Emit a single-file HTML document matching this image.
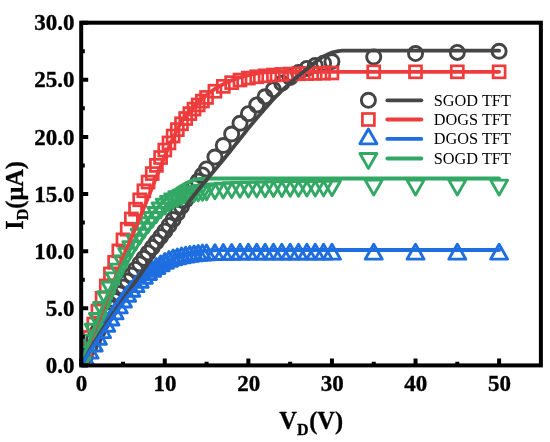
<!DOCTYPE html>
<html><head><meta charset="utf-8"><title>ID-VD</title>
<style>html,body{margin:0;padding:0;background:#fff;}body{width:550px;height:442px;overflow:hidden;font-family:"Liberation Serif",serif;}</style>
</head><body>
<svg width="550" height="442" viewBox="0 0 550 442" style="display:block">
<rect width="550" height="442" fill="#fff"/>
<defs><clipPath id="pc"><rect x="81.2" y="22.7" width="459.69" height="344.2"/></clipPath></defs>
<g clip-path="url(#pc)">
<g fill="none" stroke="#454545" stroke-width="2.9" stroke-linejoin="round">
<circle cx="81.2" cy="365.4" r="7.05"/>
<circle cx="85.38" cy="356.51" r="7.05"/>
<circle cx="89.56" cy="347.83" r="7.05"/>
<circle cx="93.74" cy="339.36" r="7.05"/>
<circle cx="97.92" cy="331.13" r="7.05"/>
<circle cx="102.09" cy="323.04" r="7.05"/>
<circle cx="106.27" cy="315.11" r="7.05"/>
<circle cx="110.45" cy="307.48" r="7.05"/>
<circle cx="114.63" cy="300.29" r="7.05"/>
<circle cx="118.81" cy="293.57" r="7.05"/>
<circle cx="122.99" cy="287.21" r="7.05"/>
<circle cx="127.17" cy="281.11" r="7.05"/>
<circle cx="131.35" cy="275.16" r="7.05"/>
<circle cx="135.53" cy="269.39" r="7.05"/>
<circle cx="139.71" cy="263.83" r="7.05"/>
<circle cx="143.88" cy="258.37" r="7.05"/>
<circle cx="148.06" cy="252.88" r="7.05"/>
<circle cx="152.24" cy="247.42" r="7.05"/>
<circle cx="156.42" cy="242.06" r="7.05"/>
<circle cx="160.6" cy="236.69" r="7.05"/>
<circle cx="164.78" cy="231.22" r="7.05"/>
<circle cx="168.96" cy="225.53" r="7.05"/>
<circle cx="173.14" cy="219.52" r="7.05"/>
<circle cx="177.32" cy="213.13" r="7.05"/>
<circle cx="181.5" cy="206.53" r="7.05"/>
<circle cx="185.68" cy="199.92" r="7.05"/>
<circle cx="189.85" cy="193.48" r="7.05"/>
<circle cx="194.03" cy="187.23" r="7.05"/>
<circle cx="198.21" cy="181.05" r="7.05"/>
<circle cx="202.39" cy="174.95" r="7.05"/>
<circle cx="206.57" cy="168.92" r="7.05"/>
<circle cx="214.93" cy="157.07" r="7.05"/>
<circle cx="223.29" cy="145.5" r="7.05"/>
<circle cx="231.64" cy="134.02" r="7.05"/>
<circle cx="240" cy="123.23" r="7.05"/>
<circle cx="248.36" cy="113.67" r="7.05"/>
<circle cx="256.72" cy="104.95" r="7.05"/>
<circle cx="265.08" cy="96.83" r="7.05"/>
<circle cx="273.43" cy="89.53" r="7.05"/>
<circle cx="281.79" cy="83.14" r="7.05"/>
<circle cx="290.15" cy="77.53" r="7.05"/>
<circle cx="298.51" cy="72.44" r="7.05"/>
<circle cx="306.87" cy="68.39" r="7.05"/>
<circle cx="315.22" cy="65.53" r="7.05"/>
<circle cx="323.58" cy="63.23" r="7.05"/>
<circle cx="331.94" cy="61.54" r="7.05"/>
<circle cx="373.73" cy="56.97" r="7.05"/>
<circle cx="415.52" cy="53.54" r="7.05"/>
<circle cx="457.31" cy="52.4" r="7.05"/>
<circle cx="499.1" cy="51.26" r="7.05"/>
</g>
<g fill="none" stroke="#ee3b3b" stroke-width="2.7" stroke-linejoin="miter">
<rect x="75.2" y="359.4" width="12.0" height="12.0"/>
<rect x="79.38" y="345.27" width="12.0" height="12.0"/>
<rect x="83.56" y="331.49" width="12.0" height="12.0"/>
<rect x="87.74" y="318.07" width="12.0" height="12.0"/>
<rect x="91.92" y="305.02" width="12.0" height="12.0"/>
<rect x="96.09" y="292.32" width="12.0" height="12.0"/>
<rect x="100.27" y="279.94" width="12.0" height="12.0"/>
<rect x="104.45" y="267.91" width="12.0" height="12.0"/>
<rect x="108.63" y="256.25" width="12.0" height="12.0"/>
<rect x="112.81" y="244.9" width="12.0" height="12.0"/>
<rect x="116.99" y="233.85" width="12.0" height="12.0"/>
<rect x="121.17" y="223.17" width="12.0" height="12.0"/>
<rect x="125.35" y="212.95" width="12.0" height="12.0"/>
<rect x="129.53" y="203.19" width="12.0" height="12.0"/>
<rect x="133.71" y="193.81" width="12.0" height="12.0"/>
<rect x="137.88" y="184.77" width="12.0" height="12.0"/>
<rect x="142.06" y="176.06" width="12.0" height="12.0"/>
<rect x="146.24" y="167.59" width="12.0" height="12.0"/>
<rect x="150.42" y="159.39" width="12.0" height="12.0"/>
<rect x="154.6" y="151.52" width="12.0" height="12.0"/>
<rect x="158.78" y="144.07" width="12.0" height="12.0"/>
<rect x="162.96" y="136.94" width="12.0" height="12.0"/>
<rect x="167.14" y="130.07" width="12.0" height="12.0"/>
<rect x="171.32" y="123.64" width="12.0" height="12.0"/>
<rect x="175.5" y="117.8" width="12.0" height="12.0"/>
<rect x="179.68" y="112.51" width="12.0" height="12.0"/>
<rect x="183.85" y="107.61" width="12.0" height="12.0"/>
<rect x="188.03" y="103.1" width="12.0" height="12.0"/>
<rect x="192.21" y="98.95" width="12.0" height="12.0"/>
<rect x="196.39" y="95.07" width="12.0" height="12.0"/>
<rect x="200.57" y="91.43" width="12.0" height="12.0"/>
<rect x="208.93" y="85.24" width="12.0" height="12.0"/>
<rect x="217.29" y="80.38" width="12.0" height="12.0"/>
<rect x="225.64" y="76.67" width="12.0" height="12.0"/>
<rect x="234" y="74.02" width="12.0" height="12.0"/>
<rect x="242.36" y="72.1" width="12.0" height="12.0"/>
<rect x="250.72" y="70.79" width="12.0" height="12.0"/>
<rect x="259.08" y="69.82" width="12.0" height="12.0"/>
<rect x="267.43" y="69.03" width="12.0" height="12.0"/>
<rect x="275.79" y="68.45" width="12.0" height="12.0"/>
<rect x="284.15" y="68.07" width="12.0" height="12.0"/>
<rect x="292.51" y="67.78" width="12.0" height="12.0"/>
<rect x="300.87" y="67.53" width="12.0" height="12.0"/>
<rect x="309.22" y="67.33" width="12.0" height="12.0"/>
<rect x="317.58" y="67.15" width="12.0" height="12.0"/>
<rect x="325.94" y="66.96" width="12.0" height="12.0"/>
<rect x="367.73" y="65.82" width="12.0" height="12.0"/>
<rect x="409.52" y="65.82" width="12.0" height="12.0"/>
<rect x="451.31" y="65.82" width="12.0" height="12.0"/>
<rect x="493.1" y="65.82" width="12.0" height="12.0"/>
</g>
<g fill="none" stroke="#1e6ee0" stroke-width="2.9" stroke-linejoin="round">
<path d="M81.2 358L89.7 372.8L72.7 372.8Z"/>
<path d="M85.38 350.56L93.88 365.36L76.88 365.36Z"/>
<path d="M89.56 343.31L98.06 358.11L81.06 358.11Z"/>
<path d="M93.74 336.27L102.24 351.07L85.24 351.07Z"/>
<path d="M97.92 329.44L106.42 344.24L89.42 344.24Z"/>
<path d="M102.09 322.82L110.59 337.62L93.59 337.62Z"/>
<path d="M106.27 316.39L114.77 331.19L97.77 331.19Z"/>
<path d="M110.45 310.15L118.95 324.95L101.95 324.95Z"/>
<path d="M114.63 304.08L123.13 318.88L106.13 318.88Z"/>
<path d="M118.81 298.06L127.31 312.86L110.31 312.86Z"/>
<path d="M122.99 292.13L131.49 306.93L114.49 306.93Z"/>
<path d="M127.17 286.52L135.67 301.32L118.67 301.32Z"/>
<path d="M131.35 281.46L139.85 296.26L122.85 296.26Z"/>
<path d="M135.53 276.86L144.03 291.66L127.03 291.66Z"/>
<path d="M139.71 272.48L148.21 287.28L131.21 287.28Z"/>
<path d="M143.88 268.41L152.38 283.21L135.38 283.21Z"/>
<path d="M148.06 264.72L156.56 279.52L139.56 279.52Z"/>
<path d="M152.24 261.49L160.74 276.29L143.74 276.29Z"/>
<path d="M156.42 258.64L164.92 273.44L147.92 273.44Z"/>
<path d="M160.6 255.96L169.1 270.76L152.1 270.76Z"/>
<path d="M164.78 253.56L173.28 268.36L156.28 268.36Z"/>
<path d="M168.96 251.55L177.46 266.35L160.46 266.35Z"/>
<path d="M173.14 250.05L181.64 264.85L164.64 264.85Z"/>
<path d="M177.32 248.94L185.82 263.74L168.82 263.74Z"/>
<path d="M181.5 247.99L190 262.79L173 262.79Z"/>
<path d="M185.68 247.2L194.18 262L177.18 262Z"/>
<path d="M189.85 246.54L198.35 261.34L181.35 261.34Z"/>
<path d="M194.03 246L202.53 260.8L185.53 260.8Z"/>
<path d="M198.21 245.52L206.71 260.32L189.71 260.32Z"/>
<path d="M202.39 245.13L210.89 259.93L193.89 259.93Z"/>
<path d="M206.57 244.91L215.07 259.71L198.07 259.71Z"/>
<path d="M214.93 244.7L223.43 259.5L206.43 259.5Z"/>
<path d="M223.29 244.54L231.79 259.34L214.79 259.34Z"/>
<path d="M231.64 244.43L240.14 259.23L223.14 259.23Z"/>
<path d="M240 244.36L248.5 259.16L231.5 259.16Z"/>
<path d="M248.36 244.34L256.86 259.14L239.86 259.14Z"/>
<path d="M256.72 244.34L265.22 259.14L248.22 259.14Z"/>
<path d="M265.08 244.34L273.58 259.14L256.58 259.14Z"/>
<path d="M273.43 244.34L281.93 259.14L264.93 259.14Z"/>
<path d="M281.79 244.34L290.29 259.14L273.29 259.14Z"/>
<path d="M290.15 244.34L298.65 259.14L281.65 259.14Z"/>
<path d="M298.51 244.34L307.01 259.14L290.01 259.14Z"/>
<path d="M306.87 244.34L315.37 259.14L298.37 259.14Z"/>
<path d="M315.22 244.34L323.72 259.14L306.72 259.14Z"/>
<path d="M323.58 244.34L332.08 259.14L315.08 259.14Z"/>
<path d="M331.94 244.34L340.44 259.14L323.44 259.14Z"/>
<path d="M373.73 244.34L382.23 259.14L365.23 259.14Z"/>
<path d="M415.52 244.34L424.02 259.14L407.02 259.14Z"/>
<path d="M457.31 244.34L465.81 259.14L448.81 259.14Z"/>
<path d="M499.1 244.34L507.6 259.14L490.6 259.14Z"/>
</g>
<g fill="none" stroke="#33a865" stroke-width="2.9" stroke-linejoin="round">
<path d="M81.2 372.8L89.7 358L72.7 358Z"/>
<path d="M85.38 361.23L93.88 346.43L76.88 346.43Z"/>
<path d="M89.56 349.95L98.06 335.15L81.06 335.15Z"/>
<path d="M93.74 339.03L102.24 324.23L85.24 324.23Z"/>
<path d="M97.92 328.25L106.42 313.45L89.42 313.45Z"/>
<path d="M102.09 317.21L110.59 302.41L93.59 302.41Z"/>
<path d="M106.27 306.54L114.77 291.74L97.77 291.74Z"/>
<path d="M110.45 296.81L118.95 282.01L101.95 282.01Z"/>
<path d="M114.63 287.7L123.13 272.9L106.13 272.9Z"/>
<path d="M118.81 278.96L127.31 264.16L110.31 264.16Z"/>
<path d="M122.99 270.71L131.49 255.91L114.49 255.91Z"/>
<path d="M127.17 263.22L135.67 248.42L118.67 248.42Z"/>
<path d="M131.35 256.41L139.85 241.61L122.85 241.61Z"/>
<path d="M135.53 250.08L144.03 235.28L127.03 235.28Z"/>
<path d="M139.71 243.99L148.21 229.19L131.21 229.19Z"/>
<path d="M143.88 238.11L152.38 223.31L135.38 223.31Z"/>
<path d="M148.06 232.51L156.56 217.71L139.56 217.71Z"/>
<path d="M152.24 227.25L160.74 212.45L143.74 212.45Z"/>
<path d="M156.42 222.37L164.92 207.57L147.92 207.57Z"/>
<path d="M160.6 217.76L169.1 202.96L152.1 202.96Z"/>
<path d="M164.78 214.02L173.28 199.22L156.28 199.22Z"/>
<path d="M168.96 211.14L177.46 196.34L160.46 196.34Z"/>
<path d="M173.14 208.64L181.64 193.84L164.64 193.84Z"/>
<path d="M177.32 206.54L185.82 191.74L168.82 191.74Z"/>
<path d="M181.5 204.88L190 190.08L173 190.08Z"/>
<path d="M185.68 203.57L194.18 188.77L177.18 188.77Z"/>
<path d="M189.85 202.49L198.35 187.69L181.35 187.69Z"/>
<path d="M194.03 201.61L202.53 186.81L185.53 186.81Z"/>
<path d="M198.21 200.88L206.71 186.08L189.71 186.08Z"/>
<path d="M202.39 200.27L210.89 185.47L193.89 185.47Z"/>
<path d="M206.57 199.74L215.07 184.94L198.07 184.94Z"/>
<path d="M214.93 198.74L223.43 183.94L206.43 183.94Z"/>
<path d="M223.29 198.02L231.79 183.22L214.79 183.22Z"/>
<path d="M231.64 197.62L240.14 182.82L223.14 182.82Z"/>
<path d="M240 197.32L248.5 182.52L231.5 182.52Z"/>
<path d="M248.36 197.08L256.86 182.28L239.86 182.28Z"/>
<path d="M256.72 196.88L265.22 182.08L248.22 182.08Z"/>
<path d="M265.08 196.71L273.58 181.91L256.58 181.91Z"/>
<path d="M273.43 196.56L281.93 181.76L264.93 181.76Z"/>
<path d="M281.79 196.43L290.29 181.63L273.29 181.63Z"/>
<path d="M290.15 196.32L298.65 181.52L281.65 181.52Z"/>
<path d="M298.51 196.21L307.01 181.41L290.01 181.41Z"/>
<path d="M306.87 196.1L315.37 181.3L298.37 181.3Z"/>
<path d="M315.22 195.99L323.72 181.19L306.72 181.19Z"/>
<path d="M323.58 195.87L332.08 181.07L315.08 181.07Z"/>
<path d="M331.94 195.74L340.44 180.94L323.44 180.94Z"/>
<path d="M373.73 194.94L382.23 180.14L365.23 180.14Z"/>
<path d="M415.52 194.94L424.02 180.14L407.02 180.14Z"/>
<path d="M457.31 194.94L465.81 180.14L448.81 180.14Z"/>
<path d="M499.1 194.94L507.6 180.14L490.6 180.14Z"/>
</g>
<polyline fill="none" stroke="#ee3b3b" stroke-width="3.8" stroke-linecap="round" stroke-linejoin="round" points="81.2,365.4 82.87,360.96 84.54,356.54 86.21,352.13 87.89,347.74 89.56,343.36 91.23,338.99 92.9,334.64 94.57,330.3 96.24,325.97 97.92,321.65 99.59,317.35 101.26,313.06 102.93,308.78 104.6,304.51 106.27,300.25 107.95,296.01 109.62,291.78 111.29,287.55 112.96,283.34 114.63,279.14 116.3,274.95 117.98,270.77 119.65,266.62 121.32,262.49 122.99,258.38 124.66,254.28 126.33,250.2 128,246.13 129.68,242.06 131.35,238.01 133.02,233.95 134.69,229.9 136.36,225.84 138.03,221.8 139.71,217.78 141.38,213.77 143.05,209.76 144.72,205.75 146.39,201.71 148.06,197.64 149.74,193.53 151.41,189.38 153.08,185.22 154.75,181.06 156.42,176.91 158.09,172.75 159.77,168.56 161.44,164.4 163.11,160.31 164.78,156.35 166.45,152.52 168.12,148.77 169.79,145.11 171.47,141.54 173.14,138.08 174.81,134.63 176.48,131.18 178.15,127.86 179.82,124.79 181.5,122.08 183.17,119.67 184.84,117.4 186.51,115.25 188.18,113.21 189.85,111.28 191.53,109.43 193.2,107.66 194.87,105.95 196.54,104.29 198.21,102.66 199.88,101.07 201.56,99.52 203.23,98 204.9,96.54 206.57,95.12 208.24,93.76 209.91,92.45 211.58,91.22 213.26,90.05 214.93,88.96 216.6,87.92 218.27,86.92 219.94,85.96 221.61,85.04 223.29,84.16 224.96,83.32 226.63,82.52 228.3,81.76 229.97,81.05 231.64,80.39 233.32,79.76 234.99,79.15 236.66,78.56 238.33,78.01 240,77.47 241.67,76.97 243.35,76.49 245.02,76.05 246.69,75.63 248.36,75.25 250.03,74.88 251.7,74.51 253.37,74.15 255.05,73.8 256.72,73.48 258.39,73.18 260.06,72.92 261.73,72.69 263.4,72.52 265.08,72.39 266.75,72.3 268.42,72.21 270.09,72.13 271.76,72.05 273.43,71.99 275.11,71.93 276.78,71.88 278.45,71.85 280.12,71.83 281.79,71.82 283.46,71.82 285.14,71.82 286.81,71.82 288.48,71.82 290.15,71.82 291.82,71.82 293.49,71.82 295.16,71.82 296.84,71.82 298.51,71.82 300.18,71.82 301.85,71.82 303.52,71.82 305.19,71.82 306.87,71.82 308.54,71.82 310.21,71.82 311.88,71.82 313.55,71.82 315.22,71.82 316.9,71.82 318.57,71.82 320.24,71.82 321.91,71.82 323.58,71.82 325.25,71.82 326.93,71.82 328.6,71.82 330.27,71.82 331.94,71.82 333.61,71.82 335.28,71.82 336.95,71.82 338.63,71.82 340.3,71.82 341.97,71.82 343.64,71.82 345.31,71.82 346.98,71.82 348.66,71.82 350.33,71.82 352,71.82 353.67,71.82 355.34,71.82 357.01,71.82 358.69,71.82 360.36,71.82 362.03,71.82 363.7,71.82 365.37,71.82 367.04,71.82 368.72,71.82 370.39,71.82 372.06,71.82 373.73,71.82 375.4,71.82 377.07,71.82 378.74,71.82 380.42,71.82 382.09,71.82 383.76,71.82 385.43,71.82 387.1,71.82 388.77,71.82 390.45,71.82 392.12,71.82 393.79,71.82 395.46,71.82 397.13,71.82 398.8,71.82 400.48,71.82 402.15,71.82 403.82,71.82 405.49,71.82 407.16,71.82 408.83,71.82 410.51,71.82 412.18,71.82 413.85,71.82 415.52,71.82 417.19,71.82 418.86,71.82 420.53,71.82 422.21,71.82 423.88,71.82 425.55,71.82 427.22,71.82 428.89,71.82 430.56,71.82 432.24,71.82 433.91,71.82 435.58,71.82 437.25,71.82 438.92,71.82 440.59,71.82 442.27,71.82 443.94,71.82 445.61,71.82 447.28,71.82 448.95,71.82 450.62,71.82 452.3,71.82 453.97,71.82 455.64,71.82 457.31,71.82 458.98,71.82 460.65,71.82 462.32,71.82 464,71.82 465.67,71.82 467.34,71.82 469.01,71.82 470.68,71.82 472.35,71.82 474.03,71.82 475.7,71.82 477.37,71.82 479.04,71.82 480.71,71.82 482.38,71.82 484.06,71.82 485.73,71.82 487.4,71.82 489.07,71.82 490.74,71.82 492.41,71.82 494.09,71.82 495.76,71.82 497.43,71.82 499.1,71.82"/>
<polyline fill="none" stroke="#33a865" stroke-width="3.8" stroke-linecap="round" stroke-linejoin="round" points="81.2,365.4 82.87,360.48 84.54,355.62 86.21,350.82 87.89,346.08 89.56,341.4 91.23,336.78 92.9,332.24 94.57,327.75 96.24,323.28 97.92,318.84 99.59,314.46 101.26,310.16 102.93,305.97 104.6,301.91 106.27,298 107.95,294.24 109.62,290.6 111.29,287.05 112.96,283.59 114.63,280.2 116.3,276.85 117.98,273.55 119.65,270.28 121.32,267.01 122.99,263.73 124.66,260.42 126.33,257.07 128,253.69 129.68,250.32 131.35,246.97 133.02,243.66 134.69,240.42 136.36,237.28 138.03,234.24 139.71,231.34 141.38,228.6 143.05,226.04 144.72,223.63 146.39,221.32 148.06,219.12 149.74,216.99 151.41,214.94 153.08,212.95 154.75,211.01 156.42,209.11 158.09,207.23 159.77,205.37 161.44,203.51 163.11,201.65 164.78,199.76 166.45,197.83 168.12,195.94 169.79,194.28 171.47,192.84 173.14,191.5 174.81,190.24 176.48,189.06 178.15,187.94 179.82,186.86 181.5,185.83 183.17,184.82 184.84,183.88 186.51,183.02 188.18,182.26 189.85,181.54 191.53,180.9 193.2,180.34 194.87,179.9 196.54,179.51 198.21,179.18 199.88,178.97 201.56,178.84 203.23,178.72 204.9,178.63 206.57,178.56 208.24,178.52 209.91,178.51 211.58,178.51 213.26,178.51 214.93,178.51 216.6,178.51 218.27,178.51 219.94,178.51 221.61,178.51 223.29,178.51 224.96,178.51 226.63,178.51 228.3,178.51 229.97,178.51 231.64,178.51 233.32,178.51 234.99,178.51 236.66,178.51 238.33,178.51 240,178.51 241.67,178.51 243.35,178.51 245.02,178.51 246.69,178.51 248.36,178.51 250.03,178.51 251.7,178.51 253.37,178.51 255.05,178.51 256.72,178.51 258.39,178.51 260.06,178.51 261.73,178.51 263.4,178.51 265.08,178.51 266.75,178.51 268.42,178.51 270.09,178.51 271.76,178.51 273.43,178.51 275.11,178.51 276.78,178.51 278.45,178.51 280.12,178.51 281.79,178.51 283.46,178.51 285.14,178.51 286.81,178.51 288.48,178.51 290.15,178.51 291.82,178.51 293.49,178.51 295.16,178.51 296.84,178.51 298.51,178.51 300.18,178.51 301.85,178.51 303.52,178.51 305.19,178.51 306.87,178.51 308.54,178.51 310.21,178.51 311.88,178.51 313.55,178.51 315.22,178.51 316.9,178.51 318.57,178.51 320.24,178.51 321.91,178.51 323.58,178.51 325.25,178.51 326.93,178.51 328.6,178.51 330.27,178.51 331.94,178.51 333.61,178.51 335.28,178.51 336.95,178.51 338.63,178.51 340.3,178.51 341.97,178.51 343.64,178.51 345.31,178.51 346.98,178.51 348.66,178.51 350.33,178.51 352,178.51 353.67,178.51 355.34,178.51 357.01,178.51 358.69,178.51 360.36,178.51 362.03,178.51 363.7,178.51 365.37,178.51 367.04,178.51 368.72,178.51 370.39,178.51 372.06,178.51 373.73,178.51 375.4,178.51 377.07,178.51 378.74,178.51 380.42,178.51 382.09,178.51 383.76,178.51 385.43,178.51 387.1,178.51 388.77,178.51 390.45,178.51 392.12,178.51 393.79,178.51 395.46,178.51 397.13,178.51 398.8,178.51 400.48,178.51 402.15,178.51 403.82,178.51 405.49,178.51 407.16,178.51 408.83,178.51 410.51,178.51 412.18,178.51 413.85,178.51 415.52,178.51 417.19,178.51 418.86,178.51 420.53,178.51 422.21,178.51 423.88,178.51 425.55,178.51 427.22,178.51 428.89,178.51 430.56,178.51 432.24,178.51 433.91,178.51 435.58,178.51 437.25,178.51 438.92,178.51 440.59,178.51 442.27,178.51 443.94,178.51 445.61,178.51 447.28,178.51 448.95,178.51 450.62,178.51 452.3,178.51 453.97,178.51 455.64,178.51 457.31,178.51 458.98,178.51 460.65,178.51 462.32,178.51 464,178.51 465.67,178.51 467.34,178.51 469.01,178.51 470.68,178.51 472.35,178.51 474.03,178.51 475.7,178.51 477.37,178.51 479.04,178.51 480.71,178.51 482.38,178.51 484.06,178.51 485.73,178.51 487.4,178.51 489.07,178.51 490.74,178.51 492.41,178.51 494.09,178.51 495.76,178.51 497.43,178.51 499.1,178.51"/>
<polyline fill="none" stroke="#454545" stroke-width="3.8" stroke-linecap="round" stroke-linejoin="round" points="81.2,365.4 82.87,362.35 84.54,359.33 86.21,356.35 87.89,353.42 89.56,350.55 91.23,347.72 92.9,344.93 94.57,342.16 96.24,339.42 97.92,336.71 99.59,334.03 101.26,331.39 102.93,328.77 104.6,326.19 106.27,323.64 107.95,321.14 109.62,318.69 111.29,316.28 112.96,313.89 114.63,311.52 116.3,309.17 117.98,306.81 119.65,304.44 121.32,302.06 122.99,299.65 124.66,297.24 126.33,294.84 128,292.43 129.68,290.02 131.35,287.61 133.02,285.21 134.69,282.8 136.36,280.39 138.03,277.97 139.71,275.56 141.38,273.14 143.05,270.71 144.72,268.28 146.39,265.85 148.06,263.41 149.74,260.97 151.41,258.51 153.08,256.05 154.75,253.58 156.42,251.09 158.09,248.56 159.77,246.01 161.44,243.45 163.11,240.87 164.78,238.27 166.45,235.67 168.12,233.07 169.79,230.46 171.47,227.86 173.14,225.27 174.81,222.69 176.48,220.13 178.15,217.58 179.82,215.06 181.5,212.57 183.17,210.11 184.84,207.69 186.51,205.3 188.18,202.96 189.85,200.67 191.53,198.42 193.2,196.22 194.87,194.06 196.54,191.93 198.21,189.84 199.88,187.78 201.56,185.74 203.23,183.72 204.9,181.72 206.57,179.73 208.24,177.75 209.91,175.78 211.58,173.81 213.26,171.84 214.93,169.86 216.6,167.88 218.27,165.88 219.94,163.87 221.61,161.84 223.29,159.78 224.96,157.71 226.63,155.62 228.3,153.53 229.97,151.44 231.64,149.34 233.32,147.24 234.99,145.14 236.66,143.04 238.33,140.95 240,138.86 241.67,136.75 243.35,134.63 245.02,132.52 246.69,130.41 248.36,128.32 250.03,126.25 251.7,124.22 253.37,122.23 255.05,120.25 256.72,118.27 258.39,116.3 260.06,114.34 261.73,112.39 263.4,110.46 265.08,108.54 266.75,106.63 268.42,104.75 270.09,102.9 271.76,101.07 273.43,99.26 275.11,97.49 276.78,95.75 278.45,94.05 280.12,92.38 281.79,90.75 283.46,89.15 285.14,87.57 286.81,86.02 288.48,84.5 290.15,83 291.82,81.52 293.49,80.07 295.16,78.63 296.84,77.22 298.51,75.82 300.18,74.44 301.85,73.07 303.52,71.71 305.19,70.34 306.87,68.95 308.54,67.56 310.21,66.18 311.88,64.81 313.55,63.47 315.22,62.17 316.9,60.9 318.57,59.7 320.24,58.55 321.91,57.48 323.58,56.49 325.25,55.6 326.93,54.76 328.6,53.97 330.27,53.25 331.94,52.64 333.61,52.17 335.28,51.78 336.95,51.41 338.63,51.09 340.3,50.84 341.97,50.71 343.64,50.69 345.31,50.69 346.98,50.69 348.66,50.69 350.33,50.69 352,50.69 353.67,50.69 355.34,50.69 357.01,50.69 358.69,50.69 360.36,50.69 362.03,50.69 363.7,50.69 365.37,50.69 367.04,50.69 368.72,50.69 370.39,50.69 372.06,50.69 373.73,50.69 375.4,50.69 377.07,50.69 378.74,50.69 380.42,50.69 382.09,50.69 383.76,50.69 385.43,50.69 387.1,50.69 388.77,50.69 390.45,50.69 392.12,50.69 393.79,50.69 395.46,50.69 397.13,50.69 398.8,50.69 400.48,50.69 402.15,50.69 403.82,50.69 405.49,50.69 407.16,50.69 408.83,50.69 410.51,50.69 412.18,50.69 413.85,50.69 415.52,50.69 417.19,50.69 418.86,50.69 420.53,50.69 422.21,50.69 423.88,50.69 425.55,50.69 427.22,50.69 428.89,50.69 430.56,50.69 432.24,50.69 433.91,50.69 435.58,50.69 437.25,50.69 438.92,50.69 440.59,50.69 442.27,50.69 443.94,50.69 445.61,50.69 447.28,50.69 448.95,50.69 450.62,50.69 452.3,50.69 453.97,50.69 455.64,50.69 457.31,50.69 458.98,50.69 460.65,50.69 462.32,50.69 464,50.69 465.67,50.69 467.34,50.69 469.01,50.69 470.68,50.69 472.35,50.69 474.03,50.69 475.7,50.69 477.37,50.69 479.04,50.69 480.71,50.69 482.38,50.69 484.06,50.69 485.73,50.69 487.4,50.69 489.07,50.69 490.74,50.69 492.41,50.69 494.09,50.69 495.76,50.69 497.43,50.69 499.1,50.69"/>
<polyline fill="none" stroke="#1e6ee0" stroke-width="3.8" stroke-linecap="round" stroke-linejoin="round" points="81.2,365.4 82.87,362.7 84.54,360.01 86.21,357.34 87.89,354.68 89.56,352.05 91.23,349.43 92.9,346.82 94.57,344.24 96.24,341.67 97.92,339.13 99.59,336.59 101.26,334.07 102.93,331.56 104.6,329.07 106.27,326.59 107.95,324.14 109.62,321.71 111.29,319.3 112.96,316.92 114.63,314.57 116.3,312.22 117.98,309.85 119.65,307.49 121.32,305.14 122.99,302.83 124.66,300.56 126.33,298.36 128,296.24 129.68,294.21 131.35,292.29 133.02,290.44 134.69,288.62 136.36,286.83 138.03,285.06 139.71,283.34 141.38,281.65 143.05,280.01 144.72,278.41 146.39,276.86 148.06,275.37 149.74,273.94 151.41,272.57 153.08,271.27 154.75,270.03 156.42,268.87 158.09,267.76 159.77,266.67 161.44,265.61 163.11,264.57 164.78,263.57 166.45,262.6 168.12,261.66 169.79,260.76 171.47,259.9 173.14,259.09 174.81,258.31 176.48,257.59 178.15,256.92 179.82,256.3 181.5,255.74 183.17,255.21 184.84,254.7 186.51,254.22 188.18,253.77 189.85,253.34 191.53,252.94 193.2,252.58 194.87,252.26 196.54,251.98 198.21,251.74 199.88,251.52 201.56,251.32 203.23,251.12 204.9,250.94 206.57,250.77 208.24,250.62 209.91,250.5 211.58,250.39 213.26,250.31 214.93,250.25 216.6,250.21 218.27,250.18 219.94,250.15 221.61,250.12 223.29,250.09 224.96,250.07 226.63,250.05 228.3,250.04 229.97,250.03 231.64,250.02 233.32,250.02 234.99,250.02 236.66,250.02 238.33,250.02 240,250.02 241.67,250.02 243.35,250.02 245.02,250.02 246.69,250.02 248.36,250.02 250.03,250.02 251.7,250.02 253.37,250.02 255.05,250.02 256.72,250.02 258.39,250.02 260.06,250.02 261.73,250.02 263.4,250.02 265.08,250.02 266.75,250.02 268.42,250.02 270.09,250.02 271.76,250.02 273.43,250.02 275.11,250.02 276.78,250.02 278.45,250.02 280.12,250.02 281.79,250.02 283.46,250.02 285.14,250.02 286.81,250.02 288.48,250.02 290.15,250.02 291.82,250.02 293.49,250.02 295.16,250.02 296.84,250.02 298.51,250.02 300.18,250.02 301.85,250.02 303.52,250.02 305.19,250.02 306.87,250.02 308.54,250.02 310.21,250.02 311.88,250.02 313.55,250.02 315.22,250.02 316.9,250.02 318.57,250.02 320.24,250.02 321.91,250.02 323.58,250.02 325.25,250.02 326.93,250.02 328.6,250.02 330.27,250.02 331.94,250.02 333.61,250.02 335.28,250.02 336.95,250.02 338.63,250.02 340.3,250.02 341.97,250.02 343.64,250.02 345.31,250.02 346.98,250.02 348.66,250.02 350.33,250.02 352,250.02 353.67,250.02 355.34,250.02 357.01,250.02 358.69,250.02 360.36,250.02 362.03,250.02 363.7,250.02 365.37,250.02 367.04,250.02 368.72,250.02 370.39,250.02 372.06,250.02 373.73,250.02 375.4,250.02 377.07,250.02 378.74,250.02 380.42,250.02 382.09,250.02 383.76,250.02 385.43,250.02 387.1,250.02 388.77,250.02 390.45,250.02 392.12,250.02 393.79,250.02 395.46,250.02 397.13,250.02 398.8,250.02 400.48,250.02 402.15,250.02 403.82,250.02 405.49,250.02 407.16,250.02 408.83,250.02 410.51,250.02 412.18,250.02 413.85,250.02 415.52,250.02 417.19,250.02 418.86,250.02 420.53,250.02 422.21,250.02 423.88,250.02 425.55,250.02 427.22,250.02 428.89,250.02 430.56,250.02 432.24,250.02 433.91,250.02 435.58,250.02 437.25,250.02 438.92,250.02 440.59,250.02 442.27,250.02 443.94,250.02 445.61,250.02 447.28,250.02 448.95,250.02 450.62,250.02 452.3,250.02 453.97,250.02 455.64,250.02 457.31,250.02 458.98,250.02 460.65,250.02 462.32,250.02 464,250.02 465.67,250.02 467.34,250.02 469.01,250.02 470.68,250.02 472.35,250.02 474.03,250.02 475.7,250.02 477.37,250.02 479.04,250.02 480.71,250.02 482.38,250.02 484.06,250.02 485.73,250.02 487.4,250.02 489.07,250.02 490.74,250.02 492.41,250.02 494.09,250.02 495.76,250.02 497.43,250.02 499.1,250.02"/>
</g>
<g stroke="#000" stroke-width="4" fill="none">
<rect x="81.2" y="22.7" width="459.69" height="342.7"/>
<path d="M81.2 365.4V358.4M164.78 365.4V358.4M248.36 365.4V358.4M331.94 365.4V358.4M415.52 365.4V358.4M499.1 365.4V358.4M122.99 365.4V361.8M206.57 365.4V361.8M290.15 365.4V361.8M373.73 365.4V361.8M457.31 365.4V361.8M81.2 365.4H88.2M81.2 308.28H88.2M81.2 251.17H88.2M81.2 194.05H88.2M81.2 136.93H88.2M81.2 79.82H88.2M81.2 22.7H88.2M81.2 336.84H84.8M81.2 279.72H84.8M81.2 222.61H84.8M81.2 165.49H84.8M81.2 108.37H84.8M81.2 51.26H84.8"/>
</g>
<g font-family="'Liberation Serif', 'Times New Roman', serif" font-weight="bold" font-size="23" fill="#000" stroke="#000" stroke-width="0.35">
<text x="81.5" y="390.6" text-anchor="middle">0</text>
<text x="165.08" y="390.6" text-anchor="middle">10</text>
<text x="248.66" y="390.6" text-anchor="middle">20</text>
<text x="332.24" y="390.6" text-anchor="middle">30</text>
<text x="415.82" y="390.6" text-anchor="middle">40</text>
<text x="499.4" y="390.6" text-anchor="middle">50</text>
<text x="74.6" y="373" text-anchor="end">0.0</text>
<text x="74.6" y="315.88" text-anchor="end">5.0</text>
<text x="74.6" y="258.77" text-anchor="end">10.0</text>
<text x="74.6" y="201.65" text-anchor="end">15.0</text>
<text x="74.6" y="144.53" text-anchor="end">20.0</text>
<text x="74.6" y="87.42" text-anchor="end">25.0</text>
<text x="74.6" y="30.3" text-anchor="end">30.0</text>
</g>
<text font-family="'Liberation Serif', 'Times New Roman', serif" font-weight="bold" font-size="24.4" stroke="#000" stroke-width="0.3" x="279.3" y="428.7">V<tspan font-size="16" dy="6">D</tspan><tspan dy="-6" dx="0.7">(V)</tspan></text>
<text font-family="'Liberation Serif', 'Times New Roman', serif" font-weight="bold" font-size="24.4" stroke="#000" stroke-width="0.3" transform="translate(22.9 229.8) rotate(-90)">I<tspan font-size="16" dy="5">D</tspan><tspan dy="-5">(μA)</tspan></text>
<g fill="none" stroke="#454545" stroke-width="2.9" stroke-linejoin="round"><circle cx="368.4" cy="100.3" r="7.05"/></g>
<path d="M387.3 100.3H421.3" stroke="#454545" stroke-width="3.8" stroke-linecap="round"/>
<text font-family="'Liberation Serif', 'Times New Roman', serif" font-size="16.3" x="433.8" y="105.7" fill="#000">SGOD TFT</text>
<g fill="none" stroke="#ee3b3b" stroke-width="2.7" stroke-linejoin="miter"><rect x="362.4" y="113.5" width="12.0" height="12.0"/></g>
<path d="M387.3 119.5H421.3" stroke="#ee3b3b" stroke-width="3.8" stroke-linecap="round"/>
<text font-family="'Liberation Serif', 'Times New Roman', serif" font-size="16.3" x="433.8" y="124.9" fill="#000">DOGS TFT</text>
<g fill="none" stroke="#1e6ee0" stroke-width="2.9" stroke-linejoin="round"><path d="M368.4 129.03L376.9 143.83L359.9 143.83Z"/></g>
<path d="M387.3 138.9H421.3" stroke="#1e6ee0" stroke-width="3.8" stroke-linecap="round"/>
<text font-family="'Liberation Serif', 'Times New Roman', serif" font-size="16.3" x="433.8" y="144.3" fill="#000">DGOS TFT</text>
<g fill="none" stroke="#33a865" stroke-width="2.9" stroke-linejoin="round"><path d="M368.4 168.37L376.9 153.57L359.9 153.57Z"/></g>
<path d="M387.3 158.5H421.3" stroke="#33a865" stroke-width="3.8" stroke-linecap="round"/>
<text font-family="'Liberation Serif', 'Times New Roman', serif" font-size="16.3" x="433.8" y="163.9" fill="#000">SOGD TFT</text>
</svg>
</body></html>
